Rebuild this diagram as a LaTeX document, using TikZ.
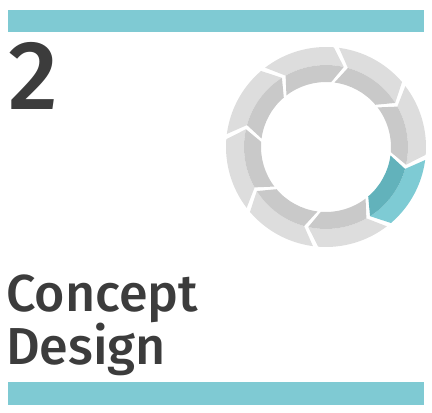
\documentclass[tikz,border=0pt]{standalone}
\usepackage{fontspec}
\setmainfont{Fira Sans}[BoldFont={Fira Sans Medium}]
\usepackage{xcolor}
\definecolor{barteal}{HTML}{7FCAD3}
\definecolor{teallt}{HTML}{7ECBD4}
\definecolor{tealdk}{HTML}{62B2BB}
\definecolor{ringlt}{HTML}{DDDDDD}
\definecolor{ringdk}{HTML}{C9C9C9}
\definecolor{textgray}{HTML}{3C3C3C}
\tikzset{title/.style={anchor=base west, inner sep=0pt, text=textgray, font=\bfseries\fontsize{52}{52}\selectfont}}

\begin{document}
\begin{tikzpicture}[x=1pt,y=1pt]
\useasboundingbox (0,0) rectangle (432,413);
% bars
\fill[barteal] (8,381) rectangle (424,403);
\fill[barteal] (8,8) rectangle (424,31);
% step number and title
\node[title, font=\bfseries\fontsize{98}{98}\selectfont] (num) at (8,303) {2};
\node[title] (line1) at (6,101) {Concept};
\node[title] (line2) at (6,48) {Design};
% ring of arrows
\begin{scope}[shift={(326,266)}]
\foreach \a/\lt/\dk in {84/ringlt/ringdk, 39/ringlt/ringdk, -6/teallt/tealdk, -51/ringlt/ringdk,
  -96/ringlt/ringdk, -141/ringlt/ringdk, -186/ringlt/ringdk, -231/ringlt/ringdk}{
  \pgfmathsetmacro\s{\a-1.5}
  \pgfmathsetmacro\e{\a-43.5}
  \pgfmathsetmacro\sd{\s-8}
  \pgfmathsetmacro\ed{\e-8}
  \fill[\lt] (\s:100pt) arc[start angle=\s, end angle=\e, radius=100pt] -- (\ed:82pt)
    arc[start angle=\ed, end angle=\sd, radius=82pt] -- cycle;
  \fill[\dk] (\sd:82pt) arc[start angle=\sd, end angle=\ed, radius=82pt] -- (\e:65pt)
    arc[start angle=\e, end angle=\s, radius=65pt] -- cycle;
}
\end{scope}
\end{tikzpicture}
\end{document}
